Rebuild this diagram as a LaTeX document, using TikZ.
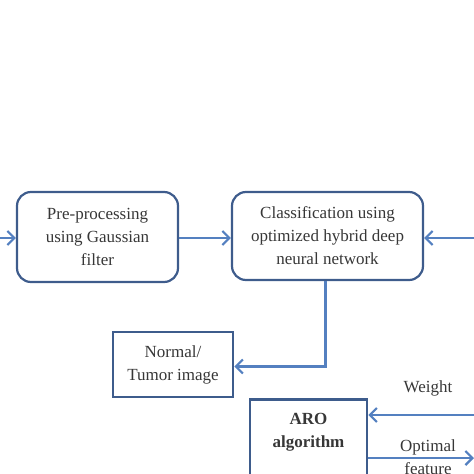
\documentclass[tikz,border=0pt]{standalone}
\usepackage{fontspec}
\setmainfont{Liberation Serif}
\usetikzlibrary{arrows.meta}
\definecolor{boxblue}{RGB}{62,92,140}
\definecolor{arrblue}{RGB}{84,128,192}
\definecolor{txt}{RGB}{55,55,55}

\begin{document}
\begin{tikzpicture}[x=1pt,y=-1pt,line width=2.2pt,
  rbox/.style={draw=boxblue,rounded corners=14pt,align=center,text=txt,inner sep=0pt,font=\fontsize{17}{23}\selectfont},
  sbox/.style={draw=boxblue,line width=2.6pt,align=center,text=txt,inner sep=0pt,font=\fontsize{17}{23}\selectfont},
  arr/.style={draw=arrblue,-{Straight Barb[length=7pt,width=14pt,line width=2.2pt]}},
  lab/.style={text=txt,align=center,font=\fontsize{17}{23}\selectfont}]
\useasboundingbox (0,0) rectangle (474,474);
\node[rbox,minimum width=161pt,minimum height=90pt] (pre) at (97.5,237) {Pre-processing\\using Gaussian\\filter};
\node[rbox,minimum width=191pt,minimum height=88pt] (cls) at (327.5,236) {Classification using\\optimized hybrid deep\\neural network};
\node[sbox,minimum width=120pt,minimum height=65pt] (out) at (173,364.5) {Normal/\\Tumor image};
\node[sbox,minimum width=117pt,minimum height=110pt,anchor=north] (aro) at (308.5,398) {};
\node[lab,font=\fontsize{17}{23}\selectfont\bfseries] (arotxt) at (308.5,432) {ARO\\algorithm};
\coordinate (in) at (0,238);
\coordinate (rin) at (474,238);
\coordinate (wgt) at (474,415);
\coordinate (opt) at (474,458);
\draw[arr] (in) -- (in -| pre.west);
\draw[arr] (pre.east |- in) -- (cls.west |- in);
\draw[arr] (rin) -- (rin -| cls.east);
\draw[arr] ([xshift=-2pt]cls.south) |- ([yshift=-2pt]out.east);
\draw[arr] (wgt) -- (wgt -| aro.east);
\draw[arr] (opt -| aro.east) -- (opt);
\node[lab] (wlab) at (428,388) {Weight};
\node[lab] (olab) at (428,457) {Optimal\\feature};
\end{tikzpicture}
\end{document}
